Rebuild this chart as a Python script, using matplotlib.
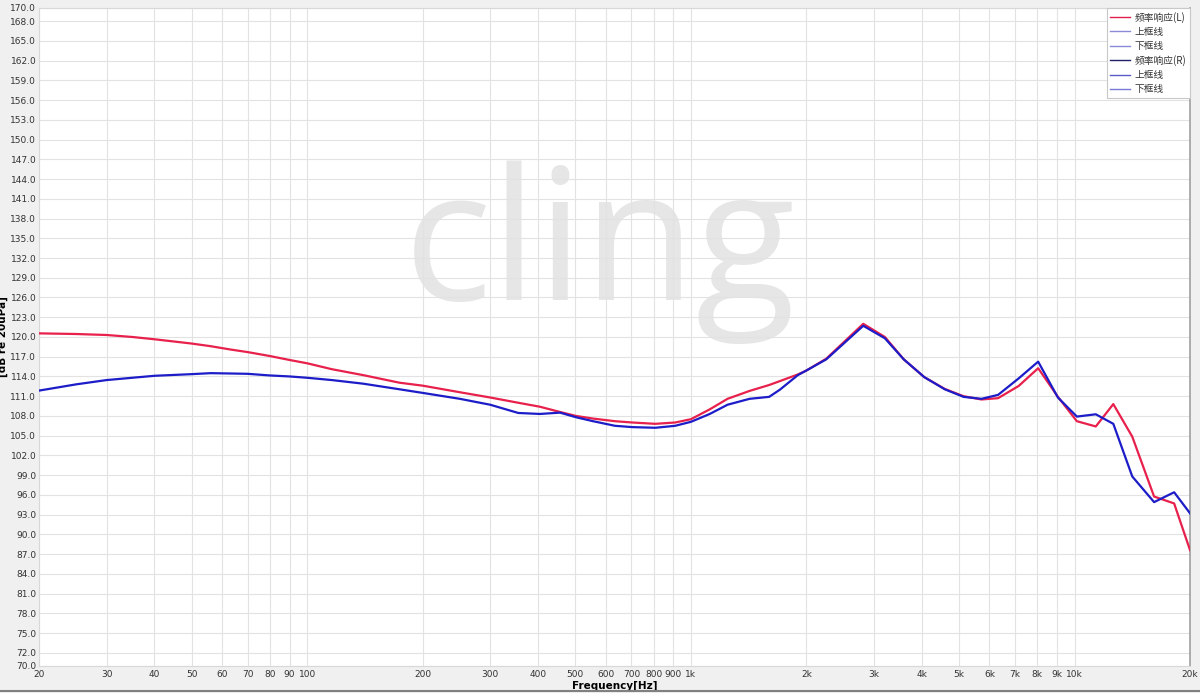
import matplotlib
matplotlib.use("Agg")
import matplotlib.pyplot as plt
from matplotlib.lines import Line2D
import numpy as np

# frequency points [Hz]
freq = [20, 25, 30, 35, 40, 50, 56, 63, 70, 80, 90, 100, 116, 140, 174, 200, 250, 300,
        355, 404, 456, 502, 556, 634, 704, 808, 910, 1000, 1120, 1246, 1422, 1600, 1707,
        1900, 2000, 2254, 2814, 3204, 3588, 4058, 4590, 5136, 5720, 6320, 7150, 8039,
        9050, 10140, 11360, 12620, 14140, 16120, 18180, 20000]

# frequency response (L) - red
left_db = [120.55, 120.45, 120.3, 120.0, 119.65, 119.0, 118.6, 118.1, 117.7, 117.1, 116.5,
           116.0, 115.1, 114.2, 113.05, 112.6, 111.6, 110.8, 110.0, 109.4, 108.6, 108.0,
           107.6, 107.2, 107.0, 106.8, 107.0, 107.5, 109.0, 110.6, 111.8, 112.7, 113.3,
           114.3, 114.9, 116.7, 122.0, 120.0, 116.6, 113.9, 112.1, 111.0, 110.5, 110.7,
           112.55, 115.25, 110.9, 107.2, 106.4, 109.8, 104.85, 95.75, 94.7, 87.6]

# frequency response (R) - blue
right_db = [111.85, 112.8, 113.45, 113.8, 114.1, 114.35, 114.5, 114.45, 114.4, 114.15, 114.0,
            113.8, 113.45, 112.9, 112.05, 111.5, 110.6, 109.7, 108.45, 108.3, 108.5, 107.8,
            107.2, 106.5, 106.3, 106.2, 106.5, 107.1, 108.3, 109.7, 110.6, 110.9, 112.0,
            114.2, 114.9, 116.6, 121.7, 119.8, 116.6, 113.9, 112.05, 110.9, 110.6, 111.2,
            113.7, 116.25, 110.8, 107.9, 108.25, 106.8, 98.8, 94.9, 96.4, 93.2]

x_ticks = [20, 30, 40, 50, 60, 70, 80, 90, 100, 200, 300, 400, 500, 600, 700, 800, 900,
           1000, 2000, 3000, 4000, 5000, 6000, 7000, 8000, 9000, 10000, 20000]
x_labels = ["20", "30", "40", "50", "60", "70", "80", "90", "100", "200", "300", "400",
            "500", "600", "700", "800", "900", "1k", "2k", "3k", "4k", "5k", "6k", "7k",
            "8k", "9k", "10k", "20k"]
y_ticks = [70] + list(range(72, 169, 3)) + [170]

legend_names = ["频率响应(L)", "上框线", "下框线", "频率响应(R)", "上框线", "下框线"]
legend_colors = ["#e0204a", "#8a8ad8", "#8a8ad8", "#202068", "#5a5ac8", "#7a7ad8"]

fig = plt.figure(figsize=(12, 6.93), dpi=100, facecolor="#f0f0f0")
ax = fig.add_axes([0.0325, 0.039, 0.9592, 0.9495])
ax.set_facecolor("white")

ax.set_xscale("log")
ax.set_xlim(20, 20000)
ax.set_ylim(70, 170)

ax.set_xticks(x_ticks)
ax.set_xticklabels(x_labels)
ax.xaxis.set_minor_locator(matplotlib.ticker.NullLocator())
ax.set_yticks(y_ticks)
ax.set_yticklabels(["%.1f" % v for v in y_ticks])
ax.tick_params(length=0, labelsize=6.5, colors="#333333", pad=2)
ax.tick_params(axis="x", pad=3)

ax.grid(True, color="#e2e2e2", linewidth=0.8, zorder=1)
ax.set_axisbelow(True)
for s in ax.spines.values():
    s.set_color("#d8d8d8")
ax.spines["right"].set_color("#a0a0a0")
ax.spines["right"].set_linewidth(1.2)

# watermark
ax.text(0.4874, 0.556, "cling", transform=ax.transAxes, fontsize=132, family="Open Sans",
        color="#e6e6e6", ha="center", va="baseline", zorder=0)

ax.plot(freq, left_db, color="#e8204c", linewidth=1.6, zorder=3)
ax.plot(freq, right_db, color="#1c1cc8", linewidth=1.6, zorder=4)

ax.set_xlabel("Frequency[Hz]", fontsize=7.5, fontweight="bold", labelpad=1)
ax.set_ylabel("[dB re 20uPa]", fontsize=7.5, fontweight="bold")
ax.yaxis.set_label_coords(-0.027, 0.5)

handles = [Line2D([], [], color=c, linewidth=1.0) for c in legend_colors]
leg = ax.legend(handles, legend_names, loc="upper right", fancybox=False, framealpha=1,
                edgecolor="#c8c8c8", handlelength=2.0, handletextpad=0.5,
                borderpad=0.35, labelspacing=0.42, borderaxespad=0.05,
                prop={"family": ["Noto Sans CJK SC", "DejaVu Sans"], "size": 7})
leg.get_frame().set_linewidth(0.8)
for t in leg.get_texts():
    t.set_color("#333333")

# bottom border of window
fig.add_artist(Line2D([0, 1], [0.003, 0.003], color="#808080", linewidth=1.5,
                      transform=fig.transFigure))

fig.savefig("out.png", dpi=100, facecolor=fig.get_facecolor())
